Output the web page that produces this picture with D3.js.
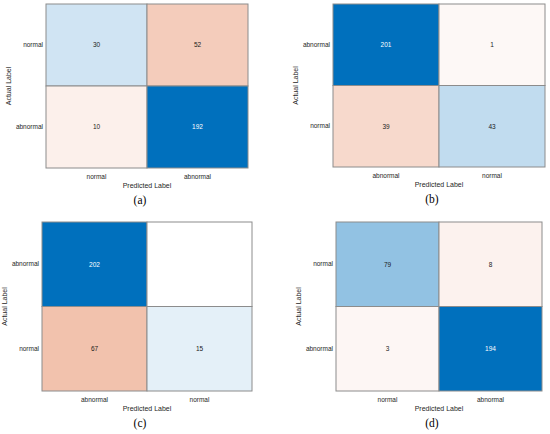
<!DOCTYPE html>
<html>
<head>
<meta charset="utf-8">
<script src="https://cdn.jsdelivr.net/npm/d3@7"></script>
<style>
  body { margin: 0; background: #fff; }
  svg { display: block; }
</style>
</head>
<body>
<div id="chart-area"></div>
<script>
// confusion matrices, rows = actual, columns = predicted
const labelsA = ["normal", "abnormal"]
const labelsB = ["abnormal", "normal"]
const labelsC = ["abnormal", "normal"]
const labelsD = ["normal", "abnormal"]

const countsA = [[30, 52], [10, 192]]
const countsB = [[201, 1], [39, 43]]
const countsC = [[202, 0], [67, 15]]
const countsD = [[79, 8], [3, 194]]

const captions = ["(a)", "(b)", "(c)", "(d)"]

const WIDTH = 550
const HEIGHT = 434

// plot boxes of the four panels
const boxes = [
  { LEFT: 46, RIGHT: 248, TOP: 4, BOTTOM: 168 },
  { LEFT: 333, RIGHT: 545, TOP: 4, BOTTOM: 167 },
  { LEFT: 42, RIGHT: 252, TOP: 222, BOTTOM: 391 },
  { LEFT: 336, RIGHT: 542, TOP: 222, BOTTOM: 391 }
]

const panels = [
  { labels: labelsA, counts: countsA },
  { labels: labelsB, counts: countsB },
  { labels: labelsC, counts: countsC },
  { labels: labelsD, counts: countsD }
]

const DIAG = "#0070bd"
const OFF = "#d95319"
const FONT = "'Liberation Sans', Arial, sans-serif"
const TEXT = "#262626"

const svg = d3.select("#chart-area").append("svg")
  .attr("width", WIDTH)
  .attr("height", HEIGHT)

panels.forEach((p, i) => {
  const box = boxes[i]
  const w = box.RIGHT - box.LEFT
  const h = box.BOTTOM - box.TOP

  const g = svg.append("g")
    .attr("transform", `translate(${box.LEFT}, ${box.TOP})`)

  const x = d3.scaleBand().domain(p.labels).range([0, w])
  const y = d3.scaleBand().domain(p.labels).range([0, h])

  const maxVal = d3.max(p.counts.flat())
  // nonzero cells get a faint minimum tint, like the original
  const strength = d3.scaleLinear().domain([0, maxVal]).range([0.035, 1]).clamp(true)
  const tint = v => v > 0 ? strength(v) : 0

  const cells = []
  p.counts.forEach((row, r) => {
    row.forEach((v, c) => {
      cells.push({ actual: p.labels[r], predicted: p.labels[c], value: v, diag: r === c })
    })
  })

  const fillOf = d => d3.interpolateRgb("#ffffff", d.diag ? DIAG : OFF)(tint(d.value))

  g.selectAll("rect")
    .data(cells)
    .enter().append("rect")
      .attr("x", d => x(d.predicted))
      .attr("y", d => y(d.actual))
      .attr("width", x.bandwidth())
      .attr("height", y.bandwidth())
      .attr("fill", fillOf)
      .attr("stroke", "#8c8c8c")
      .attr("stroke-width", 1)

  g.selectAll("text.count")
    .data(cells.filter(d => d.value > 0))
    .enter().append("text")
      .attr("class", "count")
      .attr("x", d => x(d.predicted) + x.bandwidth() / 2)
      .attr("y", d => y(d.actual) + y.bandwidth() / 2)
      .attr("dy", "0.35em")
      .attr("text-anchor", "middle")
      .attr("font-family", FONT)
      .attr("font-size", "6.5px")
      .attr("fill", d => tint(d.value) > 0.6 ? "#ffffff" : "#1a1a1a")
      .text(d => d.value)

  // axes: labels only
  const xAxis = g.append("g")
    .attr("transform", `translate(0, ${h})`)
    .call(d3.axisBottom(x).tickSize(0).tickPadding(6))
  const yAxis = g.append("g")
    .call(d3.axisLeft(y).tickSize(0).tickPadding(3))
  ;[xAxis, yAxis].forEach(a => {
    a.select(".domain").remove()
    a.selectAll("text")
      .attr("font-family", FONT)
      .attr("font-size", "6.5px")
      .attr("fill", TEXT)
  })

  g.append("text")
    .attr("x", w / 2)
    .attr("y", h + 19.5)
    .attr("text-anchor", "middle")
    .attr("font-family", FONT)
    .attr("font-size", "7px")
    .attr("fill", TEXT)
    .text("Predicted Label")

  g.append("text")
    .attr("transform", `translate(-35, ${h / 2}) rotate(-90)`)
    .attr("text-anchor", "middle")
    .attr("font-family", FONT)
    .attr("font-size", "7px")
    .attr("fill", TEXT)
    .text("Actual Label")

  g.append("text")
    .attr("x", w / 2 - 7)
    .attr("y", h + 36)
    .attr("text-anchor", "middle")
    .attr("font-family", "'Liberation Serif', 'Times New Roman', serif")
    .attr("font-size", "11.5px")
    .attr("fill", "#000")
    .text(captions[i])
})
</script>
</body>
</html>
